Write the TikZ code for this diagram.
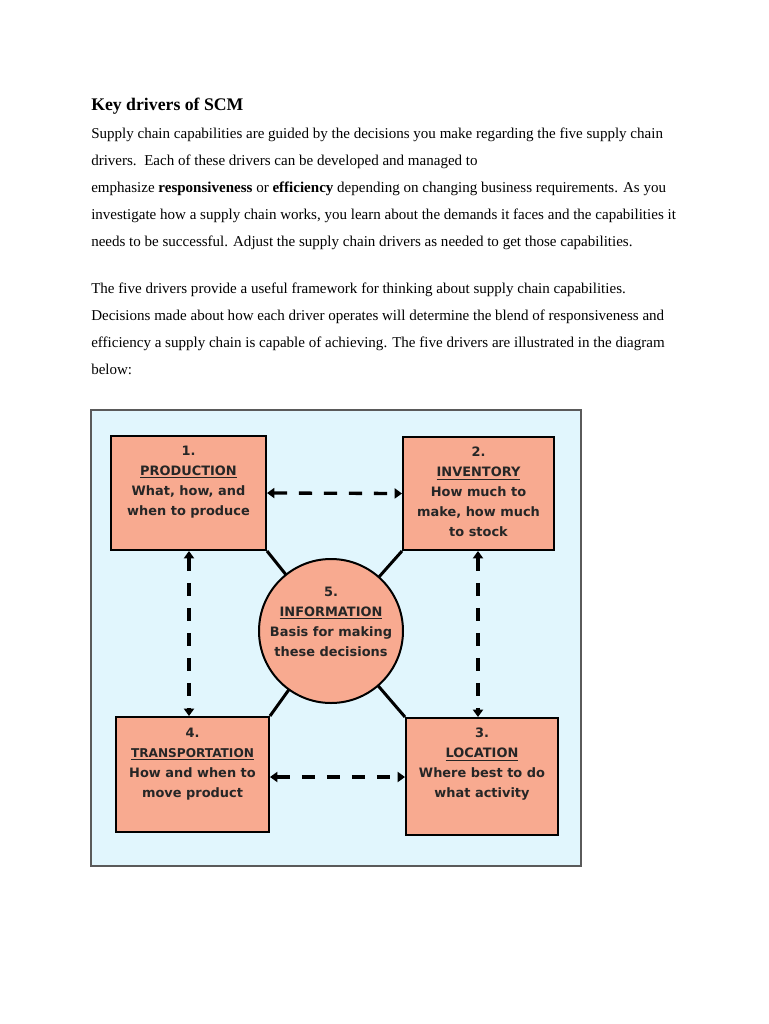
\documentclass[tikz,border=0pt]{standalone}
\usepackage{fontspec}
\setmainfont{Liberation Serif}
\newfontfamily\diagfont{DejaVu Sans}
\usetikzlibrary{arrows.meta}
\definecolor{boxfill}{HTML}{F8AA90}
\definecolor{panelbg}{HTML}{E1F6FD}
\definecolor{panelline}{HTML}{5A5A5A}
\begin{document}
\begin{tikzpicture}[x=0.75pt,y=-0.75pt,
  body/.style={anchor=base west, inner sep=0pt, font=\fontsize{11.27}{13}\selectfont},
  head/.style={anchor=base west, inner sep=0pt, font=\fontsize{13.3}{16}\selectfont\bfseries},
  drv/.style={draw=black, line width=1.5pt, fill=boxfill, inner sep=0pt},
  lbl/.style={font=\diagfont\bfseries\fontsize{9.7}{15}\selectfont, align=center, inner sep=0pt, anchor=north, text=black!85},
  link/.style={line width=2.25pt},
  dasharrow/.style={line width=2.5pt, dash pattern=on 10pt off 8.75pt,
     {Triangle[width=7.5pt,length=5.5pt]}-{Triangle[width=7.5pt,length=5.5pt]}}
]
\useasboundingbox (0,0) rectangle (768,1024);
\fill[white] (0,0) rectangle (768,1024);

% text
\node[head] (h) at (91,110) {Key drivers of SCM};
\node[body] (l1) at (91,138) {Supply chain capabilities are guided by the decisions you make regarding the five supply chain};
\node[body] (l2) at (91,165) {drivers.\ \ Each of these drivers can be developed and managed to};
\node[body] (l3) at (91,192) {emphasize \textbf{responsiveness} or \textbf{efficiency} depending on changing business requirements. As you};
\node[body] (l4) at (91,219) {investigate how a supply chain works, you learn about the demands it faces and the capabilities it};
\node[body] (l5) at (91,246) {needs to be successful. Adjust the supply chain drivers as needed to get those capabilities.};
\node[body] (p1) at (91,293) {The five drivers provide a useful framework for thinking about supply chain capabilities.};
\node[body] (p2) at (91,320) {Decisions made about how each driver operates will determine the blend of responsiveness and};
\node[body] (p3) at (91,347) {efficiency a supply chain is capable of achieving. The five drivers are illustrated in the diagram};
\node[body] (p4) at (91,374) {below:};

% panel
\node[draw=panelline, line width=0.9pt, fill=panelbg, minimum width=490*0.75pt, minimum height=456*0.75pt] (panel) at (336,638) {};

% boxes
\node[drv, minimum width=155*0.75pt, minimum height=114*0.75pt] (b1) at (188.5,493) {};
\node[drv, minimum width=151*0.75pt, minimum height=113*0.75pt] (b2) at (478.5,493.5) {};
\node[drv, minimum width=153*0.75pt, minimum height=115*0.75pt] (b4) at (192.5,774.5) {};
\node[drv, minimum width=152*0.75pt, minimum height=117*0.75pt] (b3) at (482,776.5) {};

% links to centre
\coordinate (cc) at (331,631);
\draw[link] (b1.south east) -- (cc);
\draw[link] (b2.south west) -- (cc);
\draw[link] (b4.north east) -- (cc);
\draw[link] (b3.north west) -- (cc);
\node[drv, circle, minimum size=144*0.75pt] (info) at (cc) {};

% labels
\node[lbl] (t1) at (188.5,446) {1.\\\underline{PRODUCTION}\\What, how, and\\when to produce};
\node[lbl] (t2) at (478.5,447) {2.\\\underline{INVENTORY}\\How much to\\make, how much\\to stock};
\node[lbl] (t4) at (192.5,728) {4.\\{\fontsize{9.1}{15}\selectfont\underline{TRANSPORTATION}}\\How and when to\\move product};
\node[lbl] (t3) at (482,728) {3.\\\underline{LOCATION}\\Where best to do\\what activity};
\node[lbl] (t5) at (331,587) {5.\\\underline{INFORMATION}\\Basis for making\\these decisions};

% dashed arrows
\draw[dasharrow] (b1.east) -- (b2.west);
\draw[dasharrow] (b4.east |- 0,777) -- (b3.west |- 0,777);
\draw[dasharrow] (189,550) coordinate (a1) (b1.south -| a1) -- (b4.north -| a1);
\draw[dasharrow] (b2.south -| 478,0) -- (b3.north -| 478,0);
\end{tikzpicture}
\end{document}
